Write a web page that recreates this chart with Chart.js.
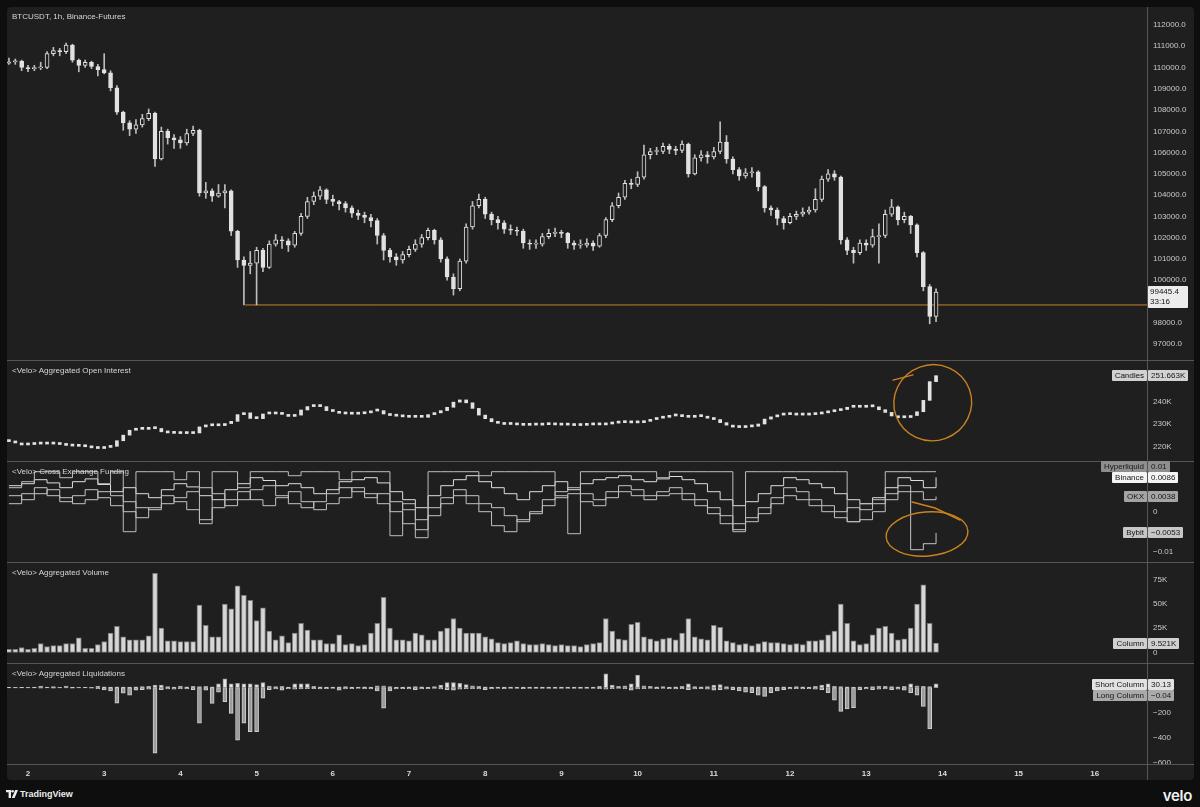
<!DOCTYPE html>
<html>
<head>
<meta charset="utf-8">
<title>BTCUSDT 1h - Velo</title>
<script src="https://cdn.jsdelivr.net/npm/chart.js@4.4.1/dist/chart.umd.min.js"></script>
<style>
  body { margin:0; width:1200px; height:807px; background:#0e0e0e; overflow:hidden; position:relative;
         font-family:"Liberation Sans", Arial, sans-serif; }
  #panel { position:absolute; left:7px; top:7px; width:1187px; height:773px; background:#1f1f1f; border-radius:4px; }
  canvas { position:absolute; left:7px; }
  .sep { position:absolute; background:#565656; }
  .title { position:absolute; left:12px; font-size:8px; line-height:10px; color:#d6d6d6; white-space:nowrap; }
  .tag { position:absolute; height:11px; line-height:11px; font-size:8px; padding:0 3px; color:#161616; white-space:nowrap; border-radius:1px; }
  #priceTag { position:absolute; left:1148px; width:38px; padding:1px 0 1px 2px; background:#ececec; color:#161616;
              font-size:8px; line-height:10px; border-radius:1px; }
  #tv { position:absolute; left:6px; top:789px; height:12px; color:#ececec; font-size:9px; font-weight:bold; white-space:nowrap; }
  #tv svg { vertical-align:-1px; margin-right:2px; }
  #velo { position:absolute; right:8px; top:786px; color:#f2f2f2; font-family:Inter, "Liberation Sans", sans-serif;
          font-size:15px; font-weight:600; letter-spacing:-0.3px; }
</style>
</head>
<body>
<div id="panel"></div>
<canvas id="cPrice"></canvas>
<canvas id="cOI"></canvas>
<canvas id="cFund"></canvas>
<canvas id="cVol"></canvas>
<canvas id="cLiq"></canvas>
<canvas id="cAxis"></canvas>

<div class="title" style="top:12px">BTCUSDT, 1h, Binance-Futures</div>
<div class="title" style="top:366px">&lt;Velo&gt; Aggregated Open Interest</div>
<div class="title" style="top:467px">&lt;Velo&gt; Cross Exchange Funding</div>
<div class="title" style="top:568px">&lt;Velo&gt; Aggregated Volume</div>
<div class="title" style="top:669px">&lt;Velo&gt; Aggregated Liquidations</div>

<div id="tv"><svg width="12" height="8" viewBox="0 0 12 8"><path d="M0 0h5v8H2.6V2.3H0z" fill="#ececec"/><circle cx="6.6" cy="1.3" r="1.3" fill="#ececec"/><path d="M9.2 0H12L8.6 8H5.8z" fill="#ececec"/></svg>TradingView</div>
<div id="velo">velo</div>

<script>
const FONT = '"Liberation Sans", Arial, sans-serif';
const ORANGE = '#c9821f';
const BG = '#1f1f1f';
const TICK = '#c9c9c9';
Chart.defaults.font.family = FONT;

// x axis in days of the month
const X_MIN = 1.7244, X_MAX = 16.685;
const BAR_T0 = 1.75, BAR_STEP = 1 / 12;   // 2h bars
const FUND_STEP = 1 / 6;                  // 4h funding steps
const dayTicks = [2, 3, 4, 5, 6, 7, 8, 9, 10, 11, 12, 13, 14, 15, 16];

// ---- price (BTCUSDT) ----
const priceFirstOpen = 110200;
const priceClose = [
  110270,110300,110000,109950,109980,110000,110650,110800,110750,111050,110350,110100,
  110250,110050,109900,109750,109050,107900,107400,107100,107300,107600,107850,105700,
  107000,106700,106600,106450,106900,107050,104100,104200,103950,104100,104200,102300,
  100950,100700,100800,101400,100600,101700,101900,101850,101650,102200,103000,103700,
  103950,104250,103800,103700,103600,103400,103150,103050,102950,102800,102100,101400,
  101100,100950,101200,101450,101700,102000,102350,101900,101000,100150,99600,100900,
  102500,103500,103800,103100,102850,102700,102400,102350,102300,101750,101700,101700,
  102050,102200,102250,102200,101750,101650,101650,101750,101600,102100,102850,103500,
  103900,104550,104500,104850,105900,106050,106050,106300,106150,106100,106400,105000,
  105750,105900,105800,106050,106500,105700,105200,104900,105050,105100,104400,103400,
  103300,102900,102700,103000,103100,103200,103300,103800,104750,105000,104850,101900,
  101400,101300,101750,101650,102050,102100,103100,103450,102850,103000,102600,101300,
  99700,98300,99445.4
];
const priceHigh = [
  110450,110400,110350,110100,110100,110250,110750,110950,110900,111150,111100,110400,
  110350,110300,110150,110650,109850,109150,107950,107500,107550,107800,108050,107900,
  107200,107100,106850,106750,107100,107250,107100,104600,104300,104500,104500,104250,
  102350,101100,101350,101550,101500,101850,102150,102050,101950,102300,103150,103900,
  104150,104400,104300,104000,103750,103700,103500,103300,103200,103100,102900,102200,
  101500,101250,101350,101600,101900,102150,102450,102400,102000,101100,100300,101000,
  102650,103700,104050,103900,103200,103000,102800,102600,102500,102400,101900,101900,
  102200,102400,102450,102350,102250,101850,101900,101950,101850,102200,102950,103650,
  104100,104700,104750,105100,106350,106200,106250,106450,106400,106300,106550,106450,
  105900,106100,106050,106250,107450,106800,105800,105300,105250,105300,105150,104450,
  103500,103400,103000,103150,103250,103400,103450,104300,104900,105200,105150,104900,
  102000,101550,101900,101900,102400,102650,103300,103800,103500,103200,103050,102650,
  101350,99800,99600
];
const priceLow = [
  110150,110150,109850,109800,109850,109900,109950,110550,110550,110650,110250,109800,
  110000,109950,109600,109700,108900,107800,107050,106800,106900,107200,107500,105350,
  105650,106400,106200,106200,106350,106800,103950,103850,103700,103900,103400,102100,
  100600,98840,100300,98840,100400,100550,101600,101500,101350,101550,102100,102900,
  103550,103800,103600,103500,103300,103200,102950,102850,102700,102500,101700,100950,
  100850,100700,100800,101100,101350,101550,101900,101700,100850,100000,99300,99500,
  100800,102400,103400,102900,102600,102400,102200,102150,102100,101500,101450,101500,
  101600,101950,102050,102000,101500,101450,101500,101550,101400,101550,102000,102750,
  103400,103800,104300,104400,104750,105700,105900,105950,105950,105900,106000,104850,
  104950,105600,105500,105700,105950,105500,105000,104700,104800,104850,104200,103200,
  103050,102600,102400,102650,102850,103000,103100,103200,103700,104650,104700,101700,
  101200,100800,101200,101400,101550,100800,102000,103000,102600,102700,102200,101100,
  99500,97950,98050
];
const priceTicks = [97000,98000,99000,100000,101000,102000,103000,104000,105000,106000,107000,108000,109000,110000,111000,112000];
const supportLevel = 98836, supportFrom = 4.85;

// ---- aggregated open interest (K) ----
const oiFirstOpen = 222.4;
const oiClose = [
  222.1,221.5,220.6,220.8,221.0,221.0,221.2,221.0,220.8,220.4,220.1,220.0,
  219.8,219.3,219.0,219.5,220.0,222.5,225.0,227.2,227.8,227.6,227.9,228.0,
  226.5,226.0,225.8,225.7,225.7,226.0,228.7,229.3,229.2,229.3,230.2,231.2,
  234.2,235.0,232.5,232.4,234.5,234.6,234.5,234.3,233.4,234.0,236.3,237.8,
  238.4,237.8,236.0,235.6,234.8,234.5,234.4,234.6,235.0,235.8,236.0,234.5,
  233.8,233.5,233.2,233.0,233.2,233.0,234.2,235.0,236.0,237.5,239.8,240.8,
  239.5,237.0,234.0,232.4,231.0,230.3,229.8,229.8,229.6,229.4,229.6,229.5,
  229.7,229.8,229.6,229.5,229.6,229.3,229.4,229.6,229.8,229.6,230.0,230.4,
  230.6,230.7,230.5,230.6,231.2,232.0,232.6,233.0,233.6,233.8,233.3,233.0,
  233.5,233.3,232.6,232.0,230.6,229.5,228.6,228.4,228.7,229.0,230.0,232.2,
  233.2,234.0,234.3,234.2,234.0,234.0,234.2,234.5,235.0,235.5,236.0,236.5,
  237.5,237.8,237.5,237.8,237.7,236.4,235.2,233.6,232.8,232.9,233.8,235.5,
  240.6,249.0,251.663
];
const oiTicks = [220, 230, 240];

// ---- cross exchange funding, 4h steps ----
const fundHyperliquid = [
  0.006,0.0075,0.01,0.01,0.0085,0.01,0.01,0.007,0.01,-0.005,
  0.01,0.01,0.01,0.008,0.01,-0.003,0.01,0.01,0.006,0.01,
  0.01,0.01,0.009,0.01,0.01,0.01,0.008,0.01,0.01,0.01,
  -0.006,0.002,-0.0065,0.01,0.01,0.01,0.01,0.009,0.01,0.01,
  0.01,0.01,0.01,0.004,-0.0055,0.01,0.01,0.01,0.01,0.01,
  0.01,0.0085,0.01,0.01,0.01,0.01,0.01,-0.005,0.01,0.01,
  0.01,0.01,0.01,0.01,0.01,0.01,-0.0025,0.002,0.003,0.01,
  0.01,0.01,0.01,0.01
];
const fundBinance = [
  0.0065,0.007,0.008,0.0072,0.006,0.0075,0.0082,0.0068,0.005,0.006,
  0.0045,0.0035,0.0055,0.007,0.0062,0.004,0.003,0.0055,0.007,0.0085,
  0.0078,0.0065,0.007,0.006,0.0045,0.0055,0.0075,0.008,0.0085,0.0072,
  0.005,0.003,0.001,0.004,0.0065,0.008,0.009,0.0075,0.006,0.0045,
  0.003,0.005,0.0065,0.0075,0.0055,0.007,0.008,0.0085,0.009,0.008,
  0.0075,0.0082,0.0088,0.008,0.007,0.005,0.003,0.0015,0.0025,0.0045,
  0.0065,0.0085,0.008,0.007,0.006,0.0045,0.003,0.002,0.0035,0.006,
  0.0085,0.0078,0.006,0.0086
];
const fundOkx = [
  0.004,0.003,0.0045,0.0055,0.0035,0.002,0.003,0.005,0.004,0.0025,
  0.001,0.0005,0.002,0.0035,0.005,0.006,0.0045,0.0015,0.003,0.0055,
  0.0065,0.004,0.002,0.001,0.0025,0.0045,0.006,0.005,0.0035,0.0045,
  0.0025,0.0005,-0.002,0.001,0.0035,0.0055,0.004,0.002,0.001,-0.001,
  -0.0025,0,0.003,0.005,0.006,0.0045,0.003,0.005,0.0065,0.0055,
  0.004,0.005,0.006,0.0045,0.003,0.001,-0.001,-0.003,-0.0015,0.001,
  0.0035,0.006,0.005,0.003,0.0015,0,0.001,0.0005,0.002,0.0045,
  0.0065,0.005,0.003,0.0038
];
const fundBybit = [
  0.002,0.0045,0.006,0.004,0.0025,0.004,0.0055,0.0035,0.0015,0,
  -0.0015,0.001,0.004,0.0025,0.0005,-0.002,0.001,0.003,0.005,0.003,
  0.0015,0.0035,0.005,0.0025,0.0005,0.002,0.0035,0.006,0.0045,0.002,
  0,-0.003,-0.0045,-0.001,0.002,0.004,0.002,0,-0.0035,-0.005,
  -0.002,-0.0005,0.0015,0.0035,0.0045,0.0025,0.0015,0.0035,0.005,0.004,
  0.003,0.004,0.0045,0.003,0.0015,-0.0005,-0.003,-0.0045,-0.0025,-0.0005,
  0.002,0.004,0.003,0.0015,0,-0.0015,-0.0025,-0.002,0,0.003,
  0.005,-0.0095,-0.008,-0.0053
];
const fundTicks = [-0.01, 0, 0.01];

// ---- aggregated volume (K) ----
const volume = [
  3,3,5,3,4,9,6,7,7,9,9,15,
  4,4,8,11,20,27,16,13,13,13,17,82,
  25,12,12,11,11,11,49,28,16,16,50,45,
  69,59,54,33,46,22,13,17,10,20,30,23,
  13,13,9,9,18,8,9,7,8,20,30,57,
  25,13,13,12,20,18,13,13,22,25,35,25,
  20,20,20,16,14,10,9,10,12,9,8,8,
  9,8,7,8,7,7,6,8,9,10,35,22,
  14,13,29,31,16,14,12,14,15,13,20,35,
  16,14,13,28,26,12,10,8,9,7,9,11,
  10,10,9,8,9,8,12,12,13,18,22,50,
  30,12,8,9,18,25,27,20,13,14,25,50,
  70,30,9.521
];
const volTicks = [0, 25, 50, 75];

// ---- aggregated liquidations ----
const liqShort = [
  2,3,2,3,4,13,5,8,3,13,4,3,
  2,3,13,6,4,6,5,4,6,8,10,21,
  21,8,5,13,6,10,8,10,6,30,70,30,
  35,30,30,25,40,12,8,10,5,30,30,30,
  10,6,5,4,6,8,5,5,6,5,15,15,
  8,5,5,6,8,6,5,8,20,40,40,35,
  25,15,10,6,5,4,5,4,5,4,5,4,
  5,4,5,4,5,4,5,4,5,10,110,20,
  10,15,30,100,15,10,6,8,5,6,10,30,
  8,6,8,20,25,8,6,5,4,5,6,5,
  4,5,6,5,8,6,5,10,20,30,10,8,
  6,5,6,5,8,12,10,8,6,10,30,15,
  10,8,30.13
];
const liqLong = [
  -1,-2,-1,-1,-2,-3,-2,-3,-2,-2,-3,-2,
  -2,-3,-8,-18,-25,-123,-43,-60,-20,-15,-12,-523,
  -15,-10,-12,-8,-10,-15,-283,-20,-125,-35,-112,-205,
  -419,-283,-352,-352,-83,-15,-10,-20,-8,-12,-10,-8,
  -8,-10,-8,-6,-20,-10,-8,-6,-8,-10,-25,-163,
  -25,-10,-8,-10,-15,-10,-8,-6,-10,-15,-20,-12,
  -8,-8,-10,-15,-8,-6,-8,-6,-5,-8,-6,-5,
  -6,-5,-6,-5,-6,-5,-5,-6,-5,-8,-12,-8,
  -6,-8,-20,-10,-8,-6,-8,-6,-8,-10,-8,-15,
  -10,-8,-12,-20,-15,-12,-15,-25,-35,-40,-60,-70,
  -40,-25,-15,-10,-8,-10,-8,-12,-15,-40,-100,-190,
  -170,-160,-15,-10,-15,-12,-10,-15,-12,-20,-40,-60,
  -150,-330,-0.04
];
const liqTicks = [-600, -400, -200];

// hand-drawn circles, in data units of their pane
const oiLoop = { x: 13.873, y: 239.55, rx: 0.512, ry: 17.0, rot: -0.35 };
const oiTail = [[13.352, 249.7], [13.614, 252.0]];
const fundLoop = { x: 13.798, y: -0.005575, rx: 0.538, ry: 0.0055, rot: -0.08 };
const fundTail = [[13.601, 0.002425], [13.903, 0.000925], [14.231, -0.002075]];

// ------------------------------------------------------------
const dayOf = i => BAR_T0 + i * BAR_STEP;
const minus = s => String(s).replace('-', '\u2212');
const priceOpen = priceClose.map((c, i) => i ? priceClose[i - 1] : priceFirstOpen);
const oiOpen = oiClose.map((c, i) => i ? oiClose[i - 1] : oiFirstOpen);

function candleSets(open, close, high, low, width, solid) {
  const sets = [{
    type: 'bar', order: 0, grouped: false, barThickness: width, minBarLength: solid ? 2 : 1,
    borderWidth: solid ? 0 : 1, borderSkipped: false, borderColor: '#e2e2e2',
    backgroundColor: c => (!solid && c.raw && c.raw.y[1] >= c.raw.y[0]) ? BG : '#e2e2e2',
    data: close.map((v, i) => ({ x: dayOf(i), y: [open[i], v] }))
  }];
  if (high) sets.push({
    type: 'bar', order: 1, grouped: false, barThickness: 1, borderWidth: 0,
    backgroundColor: '#bdbdbd',
    data: high.map((v, i) => ({ x: dayOf(i), y: [low[i], v] }))
  });
  return sets;
}

function scribble(loop, tail) {
  return {
    id: 'scribble',
    afterDatasetsDraw(chart) {
      const { ctx } = chart, sx = chart.scales.x, sy = chart.scales.y;
      const px = v => sx.getPixelForValue(v), py = v => sy.getPixelForValue(v);
      ctx.save();
      ctx.strokeStyle = ORANGE; ctx.lineWidth = 1.4; ctx.lineCap = 'round';
      ctx.beginPath();
      ctx.ellipse(px(loop.x), py(loop.y), Math.abs(px(loop.x + loop.rx) - px(loop.x)),
                  Math.abs(py(loop.y + loop.ry) - py(loop.y)), loop.rot, 0, Math.PI * 2);
      ctx.stroke();
      ctx.beginPath();
      tail.forEach((p, k) => k ? ctx.lineTo(px(p[0]), py(p[1])) : ctx.moveTo(px(p[0]), py(p[1])));
      ctx.stroke();
      ctx.restore();
    }
  };
}

function paneChart(id, top, height, type, datasets, yc, plugins) {
  const cv = document.getElementById(id);
  cv.width = 1187; cv.height = height; cv.style.top = top + 'px';
  return new Chart(cv, {
    type: type,
    data: { datasets: datasets },
    options: {
      responsive: false, animation: false, events: [],
      layout: { padding: 0 },
      plugins: { legend: { display: false }, tooltip: { enabled: false } },
      scales: {
        x: { type: 'linear', min: X_MIN, max: X_MAX, display: false, offset: false, grid: { offset: false } },
        y: {
          position: 'right', min: yc.min, max: yc.max, beginAtZero: false,
          grid: { display: false, drawTicks: false }, border: { display: false },
          afterBuildTicks: s => { s.ticks = yc.ticks.map(v => ({ value: v })); },
          afterFit: s => { s.width = 47; s.paddingTop = 0; s.paddingBottom = 0; },
          ticks: { color: TICK, font: { size: 8 }, padding: 6, callback: yc.fmt }
        }
      }
    },
    plugins: plugins || []
  });
}

// price pane
const priceChart = paneChart('cPrice', 7, 353, 'bar',
  candleSets(priceOpen, priceClose, priceHigh, priceLow, 4, false).concat([{
    type: 'line', order: 2, borderColor: ORANGE, borderWidth: 1, pointRadius: 0,
    data: [{ x: supportFrom, y: supportLevel }, { x: X_MAX, y: supportLevel }]
  }]),
  { min: 96248, max: 112846, ticks: priceTicks, fmt: v => v.toFixed(1) });

// open interest pane
const oiChart = paneChart('cOI', 360, 101, 'bar',
  candleSets(oiOpen, oiClose, null, null, 3, true),
  { min: 213.41, max: 258.70, ticks: oiTicks, fmt: v => v + 'K' },
  [scribble(oiLoop, oiTail)]);

// funding pane
const fundSeries = [
  ['Hyperliquid', fundHyperliquid, '#bdbdbd'],
  ['OKX', fundOkx, '#c4c4c4'],
  ['Bybit', fundBybit, '#c4c4c4'],
  ['Binance', fundBinance, '#dedede']
];
const fundChart = paneChart('cFund', 461, 101, 'line',
  fundSeries.map(([name, vals, col]) => ({
    label: name, stepped: true, borderColor: col, borderWidth: 1, pointRadius: 0,
    data: vals.map((v, j) => ({ x: BAR_T0 + j * FUND_STEP, y: v }))
  })),
  { min: -0.012575, max: 0.012675, ticks: fundTicks, fmt: v => v === 0 ? '0' : minus(v) },
  [scribble(fundLoop, fundTail)]);

// volume pane
const volChart = paneChart('cVol', 562, 101, 'bar', [{
    type: 'bar', barThickness: 5, borderWidth: 1, borderSkipped: false,
    backgroundColor: '#d6d6d6', borderColor: '#7a7a7a',
    data: volume.map((v, i) => ({ x: dayOf(i), y: v }))
  }],
  { min: -11.10, max: 93.67, ticks: volTicks, fmt: v => v === 0 ? '0' : v + 'K' });

// liquidations pane
const liqChart = paneChart('cLiq', 663, 101, 'bar', [{
    type: 'bar', grouped: false, barThickness: 4, borderWidth: 1, borderSkipped: false,
    backgroundColor: '#e6e6e6', borderColor: '#9a9a9a',
    data: liqShort.map((v, i) => ({ x: dayOf(i), y: v }))
  }, {
    type: 'bar', grouped: false, barThickness: 4, borderWidth: 1, borderSkipped: false,
    backgroundColor: '#9c9c9c', borderColor: '#d0d0d0',
    data: liqLong.map((v, i) => ({ x: dayOf(i), y: v }))
  }],
  { min: -610.4, max: 197.6, ticks: liqTicks, fmt: v => minus(v) });

// shared time axis
(function () {
  const cv = document.getElementById('cAxis');
  cv.width = 1187; cv.height = 16; cv.style.top = '764px';
  new Chart(cv, {
    type: 'line', data: { datasets: [] },
    options: {
      responsive: false, animation: false, events: [],
      layout: { padding: { left: 0, right: 47, top: 0, bottom: 0 } },
      plugins: { legend: { display: false }, tooltip: { enabled: false } },
      scales: {
        x: {
          type: 'linear', min: X_MIN, max: X_MAX,
          grid: { display: false, drawTicks: false }, border: { display: false },
          afterBuildTicks: s => { s.ticks = dayTicks.map(v => ({ value: v })); },
          afterFit: s => { s.height = 15; s.paddingLeft = 0; s.paddingRight = 0; },
          ticks: { color: '#dadada', font: { size: 8, weight: 'bold' }, padding: 4, maxRotation: 0, autoSkip: false }
        },
        y: { display: false }
      }
    }
  });
})();

// separators
function sep(l, t, w, h) {
  const d = document.createElement('div');
  d.className = 'sep';
  Object.assign(d.style, { left: l + 'px', top: t + 'px', width: w + 'px', height: h + 'px' });
  document.body.appendChild(d);
}
[360, 461, 562, 663, 764].forEach(y => sep(7, y, 1187, 1));
sep(1147, 7, 1, 773);

// value tags on the right axis
function tag(chart, top, name, value, bg, nudge) {
  const y = chart.scales.y.getPixelForValue(value) + top + (nudge || 0) - 5.5;
  if (name) {
    const n = document.createElement('div');
    n.className = 'tag'; n.textContent = name;
    Object.assign(n.style, { right: '53px', top: y + 'px', background: bg });
    document.body.appendChild(n);
  }
  return y;
}
function valueTag(y, text, bg) {
  const v = document.createElement('div');
  v.className = 'tag'; v.textContent = text;
  Object.assign(v.style, { left: '1148px', top: y + 'px', background: bg });
  document.body.appendChild(v);
}
const lastOf = a => a[a.length - 1];

valueTag(tag(oiChart, 360, 'Candles', lastOf(oiClose), '#d2d2d2'), lastOf(oiClose).toFixed(3) + 'K', '#d2d2d2');
valueTag(tag(fundChart, 461, 'Hyperliquid', lastOf(fundHyperliquid), '#8e8e8e', -5), minus(lastOf(fundHyperliquid)), '#8e8e8e');
valueTag(tag(fundChart, 461, 'Binance', lastOf(fundBinance), '#f4f4f4'), minus(lastOf(fundBinance)), '#f4f4f4');
valueTag(tag(fundChart, 461, 'OKX', lastOf(fundOkx), '#a4a4a4'), minus(lastOf(fundOkx)), '#a4a4a4');
valueTag(tag(fundChart, 461, 'Bybit', lastOf(fundBybit), '#c6c6c6'), minus(lastOf(fundBybit)), '#c6c6c6');
valueTag(tag(volChart, 562, 'Column', lastOf(volume), '#d0d0d0'), lastOf(volume).toFixed(3) + 'K', '#d0d0d0');
valueTag(tag(liqChart, 663, 'Short Column', lastOf(liqShort), '#e2e2e2', 1), minus(lastOf(liqShort)), '#e2e2e2');
valueTag(tag(liqChart, 663, 'Long Column', lastOf(liqLong), '#aaaaaa', 8), minus(lastOf(liqLong)), '#aaaaaa');

// last price label with bar countdown
(function () {
  const last = lastOf(priceClose);
  const y = priceChart.scales.y.getPixelForValue(last) + 7;
  const d = document.createElement('div');
  d.id = 'priceTag';
  d.style.top = (y - 6) + 'px';
  d.innerHTML = last.toFixed(1) + '<br>33:16';
  document.body.appendChild(d);
})();
</script>
</body>
</html>
